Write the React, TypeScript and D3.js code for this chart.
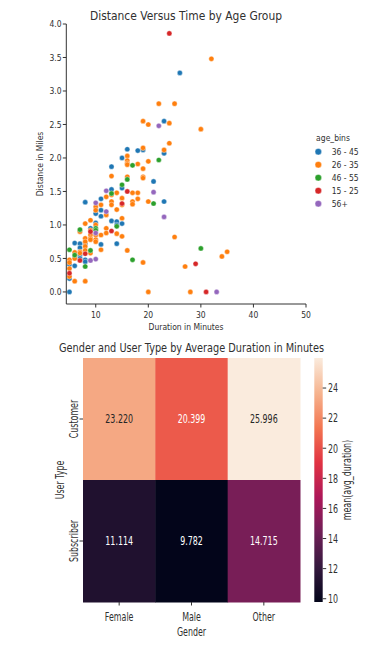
import React from "react";
import * as d3 from "d3";

// ---------- Scatter data (minutes, miles) per age group ----------
const ageBins = ["36 - 45", "26 - 35", "46 - 55", "15 - 25", "56+"];
const ageColors = ["#1f77b4", "#ff7f0e", "#2ca02c", "#d62728", "#9467bd"];

const minutes3645 = [5, 5, 5, 6, 6, 6, 7, 7, 7, 7, 8, 8, 8, 8, 9, 10, 10, 11, 11, 11, 11, 13, 13, 13, 14, 14, 14, 15, 15, 15, 16, 18, 19, 21, 23, 23, 23, 26];
const miles3645 = [0.41, 0.2, 0.0, 0.73, 0.39, 0.53, 0.72, 0.66, 0.55, 0.5, 1.34, 0.72, 0.48, 0.45, 0.95, 1.17, 1.03, 1.39, 1.22, 1.13, 0.71, 1.87, 1.53, 1.06, 1.05, 1.0, 0.72, 2.0, 1.55, 1.02, 2.13, 2.11, 2.12, 1.65, 2.55, 2.07, 1.35, 3.27];

const minutes2635 = [5, 5, 5, 5, 6, 6, 6, 7, 7, 7, 8, 8, 8, 8, 8, 8, 9, 9, 9, 9, 9, 9, 10, 10, 10, 10, 10, 10, 11, 11, 11, 12, 12, 12, 12, 13, 13, 13, 13, 14, 14, 14, 15, 15, 15, 15, 16, 16, 16, 16, 16, 16, 17, 17, 17, 18, 18, 18, 19, 19, 19, 19, 19, 19, 20, 20, 20, 20, 22, 23, 24, 24, 25, 25, 27, 28, 30, 32, 34, 35];
const miles2635 = [0.48, 0.44, 0.35, 0.23, 0.16, 0.59, 0.5, 0.9, 0.6, 0.58, 1.02, 0.8, 0.75, 0.68, 0.62, 0.16, 1.07, 0.92, 0.85, 0.8, 0.78, 0.58, 1.27, 1.22, 1.0, 0.85, 0.78, 0.75, 1.3, 0.85, 0.63, 1.42, 1.15, 0.95, 0.88, 1.73, 1.45, 1.35, 1.3, 1.48, 1.23, 0.87, 1.4, 1.3, 1.1, 0.83, 2.03, 1.96, 1.92, 1.9, 1.72, 0.62, 1.48, 1.35, 1.31, 1.91, 1.48, 1.39, 2.55, 2.15, 1.84, 1.72, 1.7, 0.44, 2.5, 1.95, 1.35, 0.0, 2.81, 2.12, 2.52, 2.22, 2.81, 0.82, 0.38, 0.0, 2.43, 3.48, 0.53, 0.6];

const minutes4655 = [5, 6, 7, 8, 9, 10, 10, 13, 14, 15, 16, 17, 17, 21, 22, 30];
const miles4655 = [0.63, 0.55, 0.93, 0.38, 0.62, 0.95, 0.92, 1.47, 0.98, 1.6, 1.68, 1.89, 0.48, 1.32, 1.97, 0.65];

const minutes1525 = [5, 7, 8, 9, 13, 15, 16, 24, 29, 31];
const miles1525 = [0.28, 0.47, 0.57, 0.9, 0.91, 1.32, 1.5, 3.86, 0.42, 0.0];

const minutes56 = [9, 10, 10, 10, 12, 12, 21, 22, 23, 33];
const miles56 = [0.47, 1.33, 0.88, 0.49, 1.51, 1.2, 1.49, 2.48, 1.12, 0.0];

const xTicks = [10, 20, 30, 40, 50];
const yTicks = [0.0, 0.5, 1.0, 1.5, 2.0, 2.5, 3.0, 3.5, 4.0];

// ---------- Heatmap data ----------
const genders = ["Female", "Male", "Other"];
const userTypes = ["Customer", "Subscriber"];
const customerDurations = [23.22, 20.399, 25.996];
const subscriberDurations = [11.114, 9.782, 14.715];
const colorbarTicks = [10, 12, 14, 16, 18, 20, 22, 24];

// rocket colormap stops
const rocketStops = ["#03051a", "#35193e", "#701f57", "#ad1759", "#e13342", "#f37651", "#f6b48f", "#faebdd"];

const FONT = "DejaVu Sans, sans-serif";
const TXT = "#303030";

function T(props: any) {
  const { x, y, sx = 1, rot = 0, anchor = "middle", size = 9.2, fill = TXT, children, tl } = props;
  const tr = `translate(${x},${y})${rot ? ` rotate(${rot})` : ""} scale(${sx},1)`;
  return (
    <text transform={tr} textAnchor={anchor} fontSize={size} fill={fill} fontFamily={FONT}
      {...(tl ? { textLength: tl, lengthAdjust: "spacingAndGlyphs" } : {})}>
      {children}
    </text>
  );
}

export default function App() {
  const W = 388, H = 647;
  // scatter scales
  const x = d3.scaleLinear().domain([4.4, 50]).range([66.3, 306]);
  const y = d3.scaleLinear().domain([-0.18, 4.0]).range([304, 24]);
  const groups = [
    [minutes3645, miles3645],
    [minutes2635, miles2635],
    [minutes4655, miles4655],
    [minutes1525, miles1525],
    [minutes56, miles56],
  ];
  const ssx = 0.83;

  // heatmap scales
  const hx = d3.scaleBand().domain(genders).range([83, 300]);
  const hy = d3.scaleBand().domain(userTypes).range([358, 602]);
  const vmin = d3.min(subscriberDurations.concat(customerDurations)) as number;
  const vmax = d3.max(subscriberDurations.concat(customerDurations)) as number;
  const color = d3.scaleLinear<string>()
    .domain(rocketStops.map((_, i) => vmin + (i / (rocketStops.length - 1)) * (vmax - vmin)))
    .range(rocketStops)
    .interpolate(d3.interpolateRgb);
  const cb = d3.scaleLinear().domain([vmin, vmax]).range([602, 358]);
  const hsx = 0.66;
  const rows = [customerDurations, subscriberDurations];

  const textColor = (v: number) => {
    const c = d3.rgb(color(v));
    const lin = (u: number) => { u /= 255; return u <= 0.03928 ? u / 12.92 : Math.pow((u + 0.055) / 1.055, 2.4); };
    const L = 0.2126 * lin(c.r) + 0.7152 * lin(c.g) + 0.0722 * lin(c.b);
    return L > 0.408 ? "#262626" : "#ffffff";
  };

  return (
    <svg width={W} height={H} style={{ position: "absolute", left: 0, top: 0, background: "#fff" }}>
      <rect x={0} y={0} width={W} height={H} fill="#fff" />
      {/* ---------- Scatter ---------- */}
      <T x={186} y={19.5} size={12} tl={192}>Distance Versus Time by Age Group</T>
      {groups.map((g, gi) =>
        g[0].map((m, i) => (
          <circle key={`p${gi}-${i}`} cx={x(m)} cy={y(g[1][i])} r={2.6} fill={ageColors[gi]} stroke="#fff" strokeWidth={0.4} />
        ))
      )}
      <line x1={66.3} x2={66.3} y1={24} y2={304} stroke="#333" strokeWidth={1} />
      <line x1={66.3} x2={306} y1={304} y2={304} stroke="#333" strokeWidth={1} />
      {yTicks.map((t) => (
        <g key={`yt${t}`}>
          <line x1={62.8} x2={66.3} y1={y(t)} y2={y(t)} stroke="#333" />
          <T x={61.5} y={y(t) + 3.3} sx={ssx} anchor="end">{t.toFixed(1)}</T>
        </g>
      ))}
      {xTicks.map((t) => (
        <g key={`xt${t}`}>
          <line x1={x(t)} x2={x(t)} y1={304} y2={307.5} stroke="#333" />
          <T x={x(t)} y={318} sx={ssx}>{t}</T>
        </g>
      ))}
      <T x={186} y={330} sx={ssx}>Duration in Minutes</T>
      <T x={43} y={164} sx={ssx} rot={-90}>Distance in Miles</T>
      {/* legend */}
      <T x={333} y={140.7} sx={ssx}>age_bins</T>
      {ageBins.map((b, i) => (
        <g key={`lg${i}`}>
          <circle cx={318.3} cy={151.7 + i * 13} r={3.3} fill={ageColors[i]} stroke="#fff" strokeWidth={0.4} />
          <T x={331.7} y={151.7 + i * 13 + 3.3} sx={ssx} anchor="start">{b}</T>
        </g>
      ))}

      {/* ---------- Heatmap ---------- */}
      <T x={191.5} y={352} size={12} tl={265}>Gender and User Type by Average Duration in Minutes</T>
      {rows.map((row, ri) =>
        row.map((v, ci) => (
          <g key={`c${ri}-${ci}`}>
            <rect x={hx(genders[ci])} y={hy(userTypes[ri])} width={hx.bandwidth() + 0.5} height={hy.bandwidth() + 0.5} fill={color(v)} />
            <T x={(hx(genders[ci]) as number) + hx.bandwidth() / 2} y={(hy(userTypes[ri]) as number) + hy.bandwidth() / 2 + 4.3} size={12} sx={hsx} fill={textColor(v)}>
              {v.toFixed(3)}
            </T>
          </g>
        ))
      )}
      {userTypes.map((u) => {
        const cy = (hy(u) as number) + hy.bandwidth() / 2;
        return (
          <g key={`ut${u}`}>
            <line x1={79.5} x2={83} y1={cy} y2={cy} stroke="#333" />
            <T x={77.5} y={cy} size={12} sx={hsx} rot={-90}>{u}</T>
          </g>
        );
      })}
      {genders.map((g) => {
        const cx = (hx(g) as number) + hx.bandwidth() / 2;
        return (
          <g key={`gt${g}`}>
            <line x1={cx} x2={cx} y1={602} y2={605.5} stroke="#333" />
            <T x={cx} y={620.5} size={12} sx={hsx}>{g}</T>
          </g>
        );
      })}
      <T x={191.5} y={636} size={12} sx={hsx}>Gender</T>
      <T x={63.5} y={480} size={12} sx={hsx} rot={-90}>User Type</T>
      {/* colorbar */}
      <defs>
        <linearGradient id="rocket" x1="0" y1="1" x2="0" y2="0">
          {rocketStops.map((c, i) => (
            <stop key={`st${i}`} offset={`${(i / (rocketStops.length - 1)) * 100}%`} stopColor={c} />
          ))}
        </linearGradient>
      </defs>
      <rect x={314.3} y={358} width={8.4} height={244} fill="url(#rocket)" />
      {colorbarTicks.map((t) => (
        <g key={`cb${t}`}>
          <line x1={322.7} x2={326.2} y1={cb(t)} y2={cb(t)} stroke="#333" />
          <T x={328} y={cb(t) + 4.3} size={12} sx={hsx} anchor="start">{t}</T>
        </g>
      ))}
      <T x={350.5} y={480} size={12} sx={hsx} rot={-90}>mean(avg_duration)</T>
    </svg>
  );
}
